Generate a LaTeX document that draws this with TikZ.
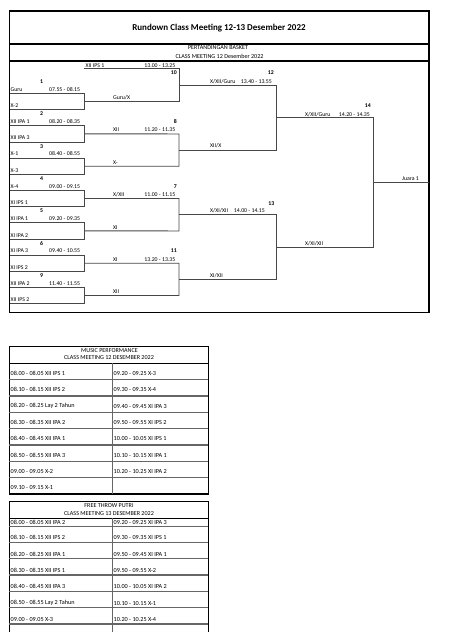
\documentclass[tikz,border=0pt]{standalone}
\usepackage{fontspec}
\setmainfont{Carlito}
\tikzset{
  frame/.style={draw=black, line width=1.1pt},
  br/.style={draw=black!72, line width=0.8pt},
  rowline/.style={draw=black!60, line width=1.1pt},
  lbl/.style={font=\fontsize{5.8}{6}\selectfont, inner sep=0pt, anchor=west},
  lble/.style={font=\fontsize{5.8}{6}\selectfont, inner sep=0pt, anchor=east},
  num/.style={font=\fontsize{5.8}{6}\selectfont\bfseries, inner sep=0pt},
  hdr/.style={font=\fontsize{6.1}{7}\selectfont, inner sep=0pt},
  tbl/.style={font=\fontsize{6.2}{7}\selectfont, inner sep=0pt, anchor=west}
}
\begin{document}
\begin{tikzpicture}[x=1pt,y=-1pt]
\useasboundingbox (0,0) rectangle (474,632);
\clip (0,0) rectangle (474,632);
\fill[white] (0,0) rectangle (474,632);

% ---------- bracket frame ----------
\draw[frame] (9.5,11) rectangle (429,312.7);
\draw[frame] (9.5,44) -- (429,44);
\draw[frame] (9.5,61) -- (429,61);
\node[font=\fontsize{9}{10}\selectfont\bfseries, inner sep=0pt] (title) at (219,28) {Rundown Class Meeting 12-13 Desember 2022};
\node[hdr] (bh1) at (218,47.8) {PERTANDINGAN BASKET};
\node[hdr] (bh2) at (219.5,56) {CLASS MEETING 12 Desember 2022};

% ---------- first round boxes ----------
\foreach \i/\n/\a/\tm/\b in {0/1/Guru/07.55 - 08.15/X-2,
  1/2/XII IPA 1/08.20 - 08.35/XII IPA 3,
  2/3/X-1/08.40 - 08.55/X-3,
  3/4/X-4/09.00 - 09.15/XI IPS 1,
  4/5/XI IPA 1/09.20 - 09.35/XI IPA 2,
  5/6/XI IPA 3/09.40 - 10.55/XI IPS 2,
  6/9/XII IPA 2/11.40 - 11.55/XII IPS 2}{
  \pgfmathsetmacro\yt{93.3+32.33*\i}
  \pgfmathsetmacro\yb{\yt+16.5}
  \pgfmathsetmacro\ym{\yt+8.25}
  \coordinate (lt\n) at (9.5,\yt);
  \coordinate (rt\n) at (84.3,\yt);
  \coordinate (rb\n) at (84.3,\yb);
  \coordinate (lb\n) at (9.5,\yb);
  \coordinate (m\n) at (84.3,\ym);
  \draw[br] (lt\n) -- (rt\n) -- (rb\n) -- (lb\n);
  \node[num] (num\n) at (41.7,\yt-11.7) {\n};
  \node[lbl] (ta\n) at (10.5,\yt-4) {\a};
  \node[lbl] (tm\n) at (49,\yt-4) {\tm};
  \node[lbl] (tb\n) at (10.5,\yb-4) {\b};
}

% ---------- bracket coordinates ----------
\coordinate (bye) at (84.3,68.3);
\coordinate (c10t) at (179,68.3);   \coordinate (c10b) at (179,101.55); \coordinate (c10m) at (179,84.9);
\coordinate (c8t) at (179,133.9);   \coordinate (c8b) at (179,166.2);   \coordinate (c8m) at (179,150.05);
\coordinate (c7t) at (179,198.5);   \coordinate (c7b) at (179,230.9);   \coordinate (c7m) at (179,214.7);
\coordinate (c11t) at (179,263.2);  \coordinate (c11b) at (179,295.5);  \coordinate (c11m) at (179,279.35);
\coordinate (c12t) at (276,84.9);   \coordinate (c12b) at (276,150.05); \coordinate (c12m) at (276,117.5);
\coordinate (c13t) at (276,214.7);  \coordinate (c13b) at (276,279.35); \coordinate (c13m) at (276,247.0);
\coordinate (c14t) at (373,117.5);  \coordinate (c14b) at (373,247.0);  \coordinate (c14m) at (373,182.25);
\coordinate (fin) at (429,182.25);

\draw[br] (bye) -- (c10t) -- (c10b) -- (m1);
\draw[br] (m2) -- (c8t) -- (c8b) -- (m3);
\draw[br] (m4) -- (c7t) -- (c7b) -- (m5);
\draw[br] (m6) -- (c11t) -- (c11b) -- (m9);
\draw[br] (c10m) -- (c12t) -- (c12b) -- (c8m);
\draw[br] (c7m) -- (c13t) -- (c13b) -- (c11m);
\draw[br] (c12m) -- (c14t) -- (c14b) -- (c13m);
\draw[br] (c14m) -- (fin);

% ---------- bracket labels ----------
\node[lbl] (l10a) at (85.5,65.3) {XII IPS 1};
\node[lble] (l10t) at (175.5,65.3) {13.00 - 13.25};
\node[num, anchor=east] (n10) at (177,72.7) {10};
\node[lbl] (l1w) at (113,97.6) {Guru/X};

\node[num, anchor=east] (n8) at (177,121.7) {8};
\node[lbl] (l8a) at (113,130) {XII};
\node[lble] (l8t) at (175.5,130) {11.20 - 11.35};
\node[lbl] (l3w) at (113,162.3) {X-};

\node[num, anchor=east] (n7) at (177,186.7) {7};
\node[lbl] (l7a) at (113,195) {X/XII};
\node[lble] (l7t) at (175.5,195) {11.00 - 11.15};
\node[lbl] (l5w) at (113,227.3) {XI};

\node[num, anchor=east] (n11) at (177,251) {11};
\node[lbl] (l11a) at (113,259.8) {XI};
\node[lble] (l11t) at (175.5,259.8) {13.20 - 13.35};
\node[lbl] (l9w) at (113,291.7) {XII};

\node[num, anchor=east] (n12) at (274,72.7) {12};
\node[lbl] (l12a) at (210,81.4) {X/XII/Guru};
\node[lble] (l12t) at (272,81.4) {13.40 - 13.55};
\node[lbl] (l8w) at (210,145.5) {XII/X};

\node[num, anchor=east] (n13) at (274.5,203.3) {13};
\node[lbl] (l13a) at (210,211) {X/XI/XII};
\node[lble] (l13t) at (265,211) {14.00 - 14.15};
\node[lbl] (l11w) at (210,275.5) {XI/XII};

\node[num, anchor=east] (n14) at (371,106) {14};
\node[lbl] (l14a) at (305,114.3) {X/XII/Guru};
\node[lble] (l14t) at (370,114.3) {14.20 - 14.35};
\node[lbl] (l13w) at (305,243.3) {X/XI/XII};
\node[lbl] (champ) at (402,179) {Juara 1};

% ---------- music performance table ----------
\draw[frame] (9.3,346.7) rectangle (208.3,494);
\draw[frame] (9.3,363.3) -- (208.3,363.3);
\draw[rowline] (112.3,363.3) -- (112.3,494);
\foreach \k in {1,...,7}{
  \draw[rowline] (9.3,363.3+16.33*\k) -- (208.3,363.3+16.33*\k);
}
\node[hdr] (mh1) at (109.5,350.2) {MUSIC PERFORMANCE};
\node[hdr] (mh2) at (109,357.4) {CLASS MEETING 12 DESEMBER 2022};
\foreach \k/\t in {1/08.00 - 08.05 XII IPS 1, 2/08.10 - 08.15 XII IPS 2,
  3/08.20 - 08.25 Lay 2 Tahun, 4/08.30 - 08.35 XII IPA 2,
  5/08.40 - 08.45 XII IPA 1, 6/08.50 - 08.55 XII IPA 3,
  7/09.00 - 09.05 X-2, 8/09.10 - 09.15 X-1}{
  \node[tbl] (ml\k) at (10.5,363.3+16.33*\k-6.2) {\t};
}
\foreach \k/\t in {1/09.20 - 09.25 X-3, 2/09.30 - 09.35 X-4,
  3/09.40 - 09.45 XI IPA 3, 4/09.50 - 09.55 XI IPS 2,
  5/10.00 - 10.05 XI IPS 1, 6/10.10 - 10.15 XI IPA 1,
  7/10.20 - 10.25 XI IPA 2}{
  \node[tbl] (mr\k) at (113.5,363.3+16.33*\k-6.2) {\t};
}

% ---------- free throw table ----------
\draw[frame] (9.3,640) -- (9.3,501.7) -- (208.3,501.7) -- (208.3,640);
\draw[frame] (9.3,518.3) -- (208.3,518.3);
\draw[rowline] (112.3,518.3) -- (112.3,640);
\draw[rowline] (9.3,526.3) -- (208.3,526.3);
\foreach \k in {1,...,6}{
  \draw[rowline] (9.3,526+16.33*\k) -- (208.3,526+16.33*\k);
}
\node[hdr] (fh1) at (109,505.2) {FREE THROW PUTRI};
\node[hdr] (fh2) at (109,513.6) {CLASS MEETING 13 DESEMBER 2022};
\node[tbl] (fl1) at (10.5,522.4) {08.00 - 08.05 XII IPA 2};
\node[tbl] (fr1) at (113.5,522.4) {09.20 - 09.25 XI IPA 3};
\foreach \k/\t in {1/08.10 - 08.15 XII IPS 2, 2/08.20 - 08.25 XII IPA 1,
  3/08.30 - 08.35 XII IPS 1, 4/08.40 - 08.45 XII IPA 3,
  5/08.50 - 08.55 Lay 2 Tahun, 6/09.00 - 09.05 X-3}{
  \node[tbl] (flx\k) at (10.5,526+16.33*\k-4.6) {\t};
}
\foreach \k/\t in {1/09.30 - 09.35 XI IPS 1, 2/09.50 - 09.45 XI IPA 1,
  3/09.50 - 09.55 X-2, 4/10.00 - 10.05 XI IPA 2,
  5/10.10 - 10.15 X-1, 6/10.20 - 10.25 X-4}{
  \node[tbl] (frx\k) at (113.5,526+16.33*\k-4.6) {\t};
}
\end{tikzpicture}
\end{document}
